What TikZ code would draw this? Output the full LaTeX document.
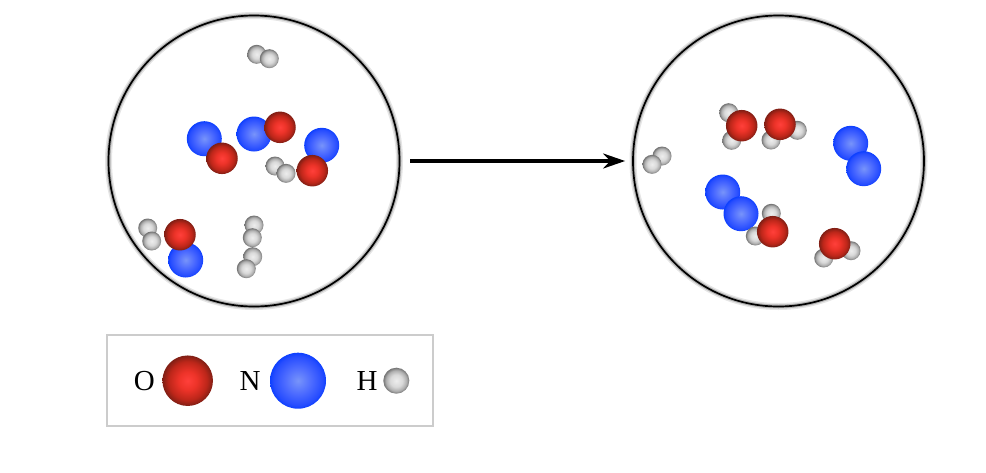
\documentclass[tikz,border=0pt]{standalone}
\usepackage{fontspec}
\setmainfont{Liberation Serif}
\usetikzlibrary{arrows.meta}
\pgfdeclareradialshading{oball}{\pgfpoint{0bp}{0bp}}{rgb(0bp)=(1,0.25,0.23); rgb(9bp)=(0.93,0.2,0.16); rgb(19bp)=(0.74,0.15,0.1); rgb(25bp)=(0.5,0.12,0.08); rgb(50bp)=(0.5,0.12,0.08)}
\pgfdeclareradialshading{nball}{\pgfpoint{0bp}{0bp}}{rgb(0bp)=(0.47,0.58,0.98); rgb(12bp)=(0.3,0.42,1); rgb(22bp)=(0.15,0.3,1); rgb(25bp)=(0.05,0.25,1); rgb(50bp)=(0.05,0.25,1)}
\pgfdeclareradialshading{hball}{\pgfpoint{0bp}{0bp}}{rgb(0bp)=(0.93,0.93,0.93); rgb(12bp)=(0.85,0.85,0.85); rgb(20bp)=(0.68,0.68,0.68); rgb(25bp)=(0.45,0.45,0.45); rgb(50bp)=(0.45,0.45,0.45)}
\tikzset{
  atom/.style={circle,inner sep=0pt,outer sep=0pt},
  oatom/.style={atom,shading=oball,minimum size=31.5pt},
  natom/.style={atom,shading=nball,minimum size=35pt},
  hatom/.style={atom,shading=hball,minimum size=19pt},
  vessel/.style={circle,draw=black,line width=1.7pt,inner sep=0pt,minimum size=291pt,
    preaction={draw=black!10,line width=7pt},preaction={draw=black!30,line width=4pt}},
  elem/.style={inner sep=0pt,font=\fontsize{29}{29}\selectfont}
}
\begin{document}
\begin{tikzpicture}[x=1pt,y=-1pt]
   \useasboundingbox (0,0) rectangle (986,472);
   \node[vessel] (before) at (254,161) {};
   \node[vessel] (after) at (778.5,161) {};
   \draw[-{Stealth[length=22pt,width=15pt]},line width=3.2pt,yshift=1pt,shorten <=10pt,shorten >=7pt] (before) -- (after);
   % left vessel
   \node[hatom] (h_1) at (256.7,54.3) {};
   \node[hatom] (h_2) at (269.3,58.7) {};
   \node[natom] (n_1) at (204.3,138.7) {};
   \node[oatom] (o_1) at (222,158.3) {};
   \node[natom] (n_2) at (254,134) {};
   \node[oatom] (o_2) at (280,127.3) {};
   \node[natom] (n_3) at (321.7,145.3) {};
   \node[oatom] (o_3) at (312.3,170.7) {};
   \node[hatom] (h_3) at (275,166) {};
   \node[hatom] (h_4) at (286,173.3) {};
   \node[hatom] (h_5) at (147.7,228) {};
   \node[hatom] (h_6) at (151.7,241) {};
   \node[natom] (n_4) at (185.7,260) {};
   \node[oatom] (o_4) at (180,234.7) {};
   \node[hatom] (h_7) at (254,225) {};
   \node[hatom] (h_8) at (252.3,237.7) {};
   \node[hatom] (h_9) at (252.7,256.7) {};
   \node[hatom] (h_10) at (246.3,268.7) {};
   % right vessel
   \node[hatom] (h_11) at (662,156) {};
   \node[hatom] (h_12) at (652,164.3) {};
   \node[hatom] (h_13) at (728.7,112.7) {};
   \node[hatom] (h_14) at (731.7,140.3) {};
   \node[oatom] (o_5) at (741.7,125.7) {};
   \node[hatom] (h_15) at (797.3,130.3) {};
   \node[hatom] (h_16) at (771,140) {};
   \node[oatom] (o_6) at (780,124.3) {};
   \node[natom] (n_5) at (850.7,143.3) {};
   \node[natom] (n_6) at (863.7,168.7) {};
   \node[natom] (n_7) at (722.7,192) {};
   \node[natom] (n_8) at (741,213.7) {};
   \node[hatom] (h_17) at (771.3,213.3) {};
   \node[hatom] (h_18) at (755.3,236) {};
   \node[oatom] (o_7) at (772.7,231.7) {};
   \node[hatom] (h_19) at (851,250.7) {};
   \node[hatom] (h_20) at (823.7,258) {};
   \node[oatom] (o_8) at (834.7,243.7) {};
   % legend
   \node[draw=black!20,line width=1.4pt,minimum width=326pt,minimum height=91pt] (legend) at (270,380.5) {};
   \node[elem] (o_label) at (144.3,381) {O};
   \node[atom,shading=oball,minimum size=50.5pt] (o_key) at (187.7,380.7) {};
   \node[elem] (n_label) at (250,380.7) {N};
   \node[atom,shading=nball,minimum size=56pt] (n_key) at (298,380.7) {};
   \node[elem] (h_label) at (367,380.7) {H};
   \node[atom,shading=hball,minimum size=26pt] (h_key) at (396.3,380.7) {};
\end{tikzpicture}
\end{document}
